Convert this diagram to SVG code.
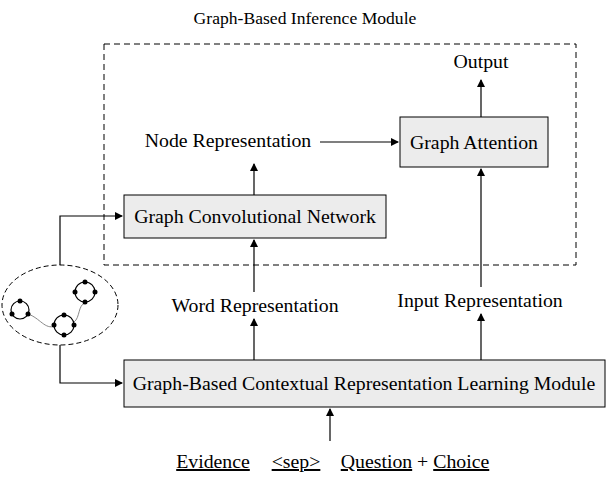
<svg xmlns="http://www.w3.org/2000/svg" width="611" height="480" viewBox="0 0 611 480">
<defs>
<style>
text{font-family:"Liberation Serif",serif;font-size:19.8px;fill:#000}
.t{font-size:17.6px}
.box{fill:#ececec;stroke:#000;stroke-width:1}
.c{fill:none;stroke:#000;stroke-width:1.2}
.d{fill:#000}
.g{fill:none;stroke:#888;stroke-width:1}
</style>
<marker id="a" markerWidth="8" markerHeight="8" refX="7" refY="4" orient="auto" markerUnits="userSpaceOnUse"><path d="M0,0 L8,4 L0,8 z"/></marker>
</defs>
<rect width="611" height="480" fill="#fff"/>
<text class="t" x="305" y="24" text-anchor="middle">Graph-Based Inference Module</text>
<rect x="104" y="44" width="472" height="221" fill="none" stroke="#000" stroke-dasharray="6,4"/>
<g id="output"><text x="481" y="68" text-anchor="middle">Output</text></g>
<g id="noderep"><text x="228" y="147" text-anchor="middle">Node Representation</text></g>
<g id="attn"><rect class="box" x="400" y="117" width="148" height="50"/><text x="474" y="149" text-anchor="middle">Graph Attention</text></g>
<g id="gcn"><rect class="box" x="124" y="195" width="262" height="43"/><text x="255" y="223" text-anchor="middle">Graph Convolutional Network</text></g>
<g id="wordrep"><text x="255" y="312" text-anchor="middle">Word Representation</text></g>
<g id="inputrep"><text x="480" y="307" text-anchor="middle">Input Representation</text></g>
<g id="ctx"><rect class="box" x="124" y="360" width="481" height="47"/><text x="364" y="390" text-anchor="middle">Graph-Based Contextual Representation Learning Module</text></g>
<g id="inputs">
<text x="213" y="468" text-anchor="middle" text-decoration="underline">Evidence</text>
<text x="296" y="468" text-anchor="middle" text-decoration="underline">&lt;sep&gt;</text>
<text x="415" y="468" text-anchor="middle"><tspan text-decoration="underline">Question</tspan> + <tspan text-decoration="underline">Choice</tspan></text>
</g>
<g id="graph">
<ellipse cx="60" cy="305" rx="58" ry="40" fill="none" stroke="#000" stroke-dasharray="5,3"/>
<path class="g" d="M28,314 C40,318 45,330 55,326 M74,322 C80,318 78,305 85,303"/>
<circle class="c" cx="20" cy="310" r="9"/>
<circle class="d" cx="20" cy="301" r="2.5"/><circle class="d" cx="12" cy="314" r="2.5"/><circle class="d" cx="28" cy="314" r="2.5"/>
<circle class="c" cx="85" cy="292" r="10"/>
<circle class="d" cx="85" cy="282" r="2.5"/><circle class="d" cx="75" cy="292" r="2.5"/><circle class="d" cx="95" cy="292" r="2.5"/><circle class="d" cx="85" cy="302" r="2.5"/>
<circle class="c" cx="64" cy="325" r="10"/>
<circle class="d" cx="64" cy="315" r="2.5"/><circle class="d" cx="54" cy="325" r="2.5"/><circle class="d" cx="74" cy="325" r="2.5"/><circle class="d" cx="64" cy="335" r="2.5"/>
</g>
<g id="connectors" fill="none" stroke="#000" stroke-width="1.2">
<path d="M481,117 V80" marker-end="url(#a)"/>
<path d="M320,142 H398" marker-end="url(#a)"/>
<path d="M254,195 V164" marker-end="url(#a)"/>
<path d="M254,360 V319" marker-end="url(#a)"/>
<path d="M254,292 V240" marker-end="url(#a)"/>
<path d="M481,360 V314" marker-end="url(#a)"/>
<path d="M481,287 V169" marker-end="url(#a)"/>
<path d="M60,265 V216 H122" marker-end="url(#a)"/>
<path d="M60,345 V383 H122" marker-end="url(#a)"/>
<path d="M330,441 V409" marker-end="url(#a)"/>
</g>
</svg>
